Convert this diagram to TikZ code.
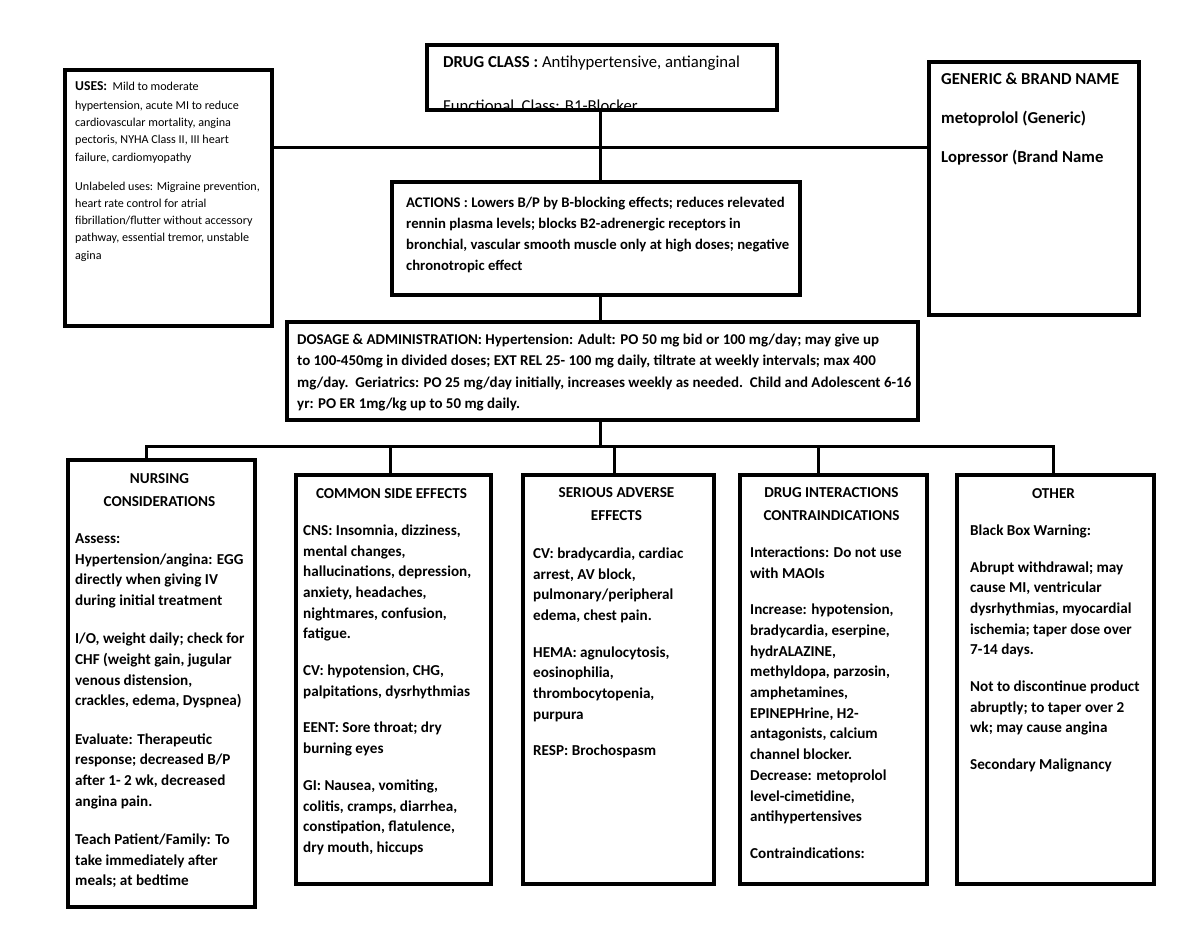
\documentclass[tikz,border=0pt]{standalone}
\usepackage{fontspec}
\setmainfont{Carlito}
\begin{document}
\begin{tikzpicture}[x=1pt,y=-1pt,
  box/.style={draw, line width=4pt, anchor=north west, inner sep=0pt},
  link/.style={line width=3pt},
  body/.style={inner sep=0pt, anchor=north west, align=left,
    font=\bfseries\fontsize{15.15}{20.7}\selectfont, execute at begin node=\strut},
  head/.style={inner sep=0pt, anchor=north, align=center,
    font=\bfseries\fontsize{15.15}{22.5}\selectfont, execute at begin node=\strut},
  topbody/.style={inner sep=0pt, anchor=north west, align=left,
    font=\bfseries\fontsize{14.95}{21.3}\selectfont, execute at begin node=\strut},
  namebody/.style={inner sep=0pt, anchor=north west, align=left,
    font=\bfseries\fontsize{16.7}{21.3}\selectfont, execute at begin node=\strut},
  smallbody/.style={inner sep=0pt, anchor=north west, align=left,
    font=\fontsize{12.1}{17.3}\selectfont, execute at begin node=\strut},
  plainbody/.style={inner sep=0pt, anchor=north west, align=left,
    font=\fontsize{16.7}{20.7}\selectfont, execute at begin node=\strut}]
\fill[white] (0,0) rectangle (1200,927);
\useasboundingbox (0,0) rectangle (1200,927);

% boxes
\node[box, minimum width=207pt, minimum height=256pt] (uses) at (63,68) {};
\node[box, minimum width=350pt, minimum height=65pt] (dclass) at (425,43) {};
\node[box, minimum width=210pt, minimum height=253pt] (generic) at (927,60) {};
\node[box, minimum width=408pt, minimum height=113pt] (actions) at (390,180) {};
\node[box, minimum width=631pt, minimum height=98pt] (dosage) at (285,320) {};
\node[box, minimum width=187pt, minimum height=447pt] (nurs) at (66,458) {};
\node[box, minimum width=195pt, minimum height=409pt] (common) at (294,473) {};
\node[box, minimum width=191pt, minimum height=409pt] (serious) at (521,473) {};
\node[box, minimum width=187pt, minimum height=409pt] (drug) at (738,473) {};
\node[box, minimum width=197pt, minimum height=409pt] (other) at (955,473) {};

% connectors
\coordinate (spine) at (600,0);
\coordinate (hbar) at (600,147);
\coordinate (d1) at (146,446);
\coordinate (d2) at (390,446);
\coordinate (d3) at (614,446);
\coordinate (d4) at (818,446);
\coordinate (d5) at (1053,446);
\draw[link] (uses.east |- hbar) -- (generic.west |- hbar);
\draw[link] (dclass.south -| spine) -- (actions.north -| spine);
\draw[link] (actions.south -| spine) -- (dosage.north -| spine);
\draw[link] (dosage.south -| spine) -- (d1 -| spine);
\draw[link] (d1 |- nurs.north) -- (d1) -- (d5) -- (d5 |- other.north);
\draw[link] (d2) -- (d2 |- common.north);
\draw[link] (d3) -- (d3 |- serious.north);
\draw[link] (d4) -- (d4 |- drug.north);

% texts
\node[smallbody] (usestext) at (75,81) {{\fontsize{13.6}{17.3}\selectfont\bfseries USES:}\ \ Mild to moderate\\[1.7pt]
hypertension, acute MI to reduce\\
cardiovascular mortality, angina\\
pectoris, NYHA Class II, III heart\\
failure, cardiomyopathy\\[11.7pt]
Unlabeled uses: Migraine prevention,\\
heart rate control for atrial\\
fibrillation/flutter without accessory\\
pathway, essential tremor, unstable\\
agina};

\begin{scope}
\clip ([shift={(2,2)}]dclass.north west) rectangle ([shift={(-2,-2)}]dclass.south east);
\node[plainbody] (dctext) at (443,55.5) {\textbf{DRUG CLASS :} Antihypertensive, antianginal\\[23.3pt]
Functional\ \ Class: B1-Blocker};
\end{scope}

\node[namebody] (gentext) at (941,72.5) {GENERIC \& BRAND NAME\\[17.7pt]
metoprolol (Generic)\\[17.7pt]
Lopressor (Brand Name};

\node[topbody, font=\bfseries\fontsize{14.7}{21.3}\selectfont] (acttext) at (406,196.5) {ACTIONS : Lowers B/P by B-blocking effects; reduces relevated\\
rennin plasma levels; blocks B2-adrenergic receptors in\\
bronchial, vascular smooth muscle only at high doses; negative\\
chronotropic effect};

\node[topbody] (dostext) at (297,334) {DOSAGE \& ADMINISTRATION: Hypertension: Adult: PO 50 mg bid or 100 mg/day; may give up\\
to 100-450mg in divided doses; EXT REL 25- 100 mg daily, tiltrate at weekly intervals; max 400\\
mg/day.\ \ Geriatrics: PO 25 mg/day initially, increases weekly as needed.\ \ Child and Adolescent 6-16\\
yr: PO ER 1mg/kg up to 50 mg daily.};

\node[head] (nurshead) at (159.5,473.5) {NURSING\\CONSIDERATIONS};
\node[body] (nurstext) at (75,533.5) {Assess:\\
Hypertension/angina: EGG\\
directly when giving IV\\
during initial treatment\\[17.5pt]
I/O, weight daily; check for\\
CHF (weight gain, jugular\\
venous distension,\\
crackles, edema, Dyspnea)\\[17.5pt]
Evaluate: Therapeutic\\
response; decreased B/P\\
after 1- 2 wk, decreased\\
angina pain.\\[17.5pt]
Teach Patient/Family: To\\
take immediately after\\
meals; at bedtime};

\node[head] (comhead) at (391.5,482.5) {COMMON SIDE EFFECTS};
\node[body] (comtext) at (303,524.5) {CNS: Insomnia, dizziness,\\
mental changes,\\
hallucinations, depression,\\
anxiety, headaches,\\
nightmares, confusion,\\
fatigue.\\[16pt]
CV: hypotension, CHG,\\
palpitations, dysrhythmias\\[16pt]
EENT: Sore throat; dry\\
burning eyes\\[16pt]
GI: Nausea, vomiting,\\
colitis, cramps, diarrhea,\\
constipation, flatulence,\\
dry mouth, hiccups};

\node[head] (serhead) at (616.5,487.5) {SERIOUS ADVERSE\\EFFECTS};
\node[body] (sertext) at (533,547.5) {CV: bradycardia, cardiac\\
arrest, AV block,\\
pulmonary/peripheral\\
edema, chest pain.\\[16pt]
HEMA: agnulocytosis,\\
eosinophilia,\\
thrombocytopenia,\\
purpura\\[16pt]
RESP: Brochospasm};

\node[head] (drughead) at (831.5,487.5) {DRUG INTERACTIONS\\CONTRAINDICATIONS};
\node[body] (drugtext) at (750,546.5) {Interactions: Do not use\\
with MAOIs\\[16pt]
Increase: hypotension,\\
bradycardia, eserpine,\\
hydrALAZINE,\\
methyldopa, parzosin,\\
amphetamines,\\
EPINEPHrine, H2-\\
antagonists, calcium\\
channel blocker.\\
Decrease: metoprolol\\
level-cimetidine,\\
antihypertensives\\[16pt]
Contraindications:};

\node[head] (othhead) at (1053.5,482.5) {OTHER};
\node[body] (othtext) at (970,524.5) {Black Box Warning:\\[16pt]
Abrupt withdrawal; may\\
cause MI, ventricular\\
dysrhythmias, myocardial\\
ischemia; taper dose over\\
7-14 days.\\[16pt]
Not to discontinue product\\
abruptly; to taper over 2\\
wk; may cause angina\\[16pt]
Secondary Malignancy};
\end{tikzpicture}
\end{document}
